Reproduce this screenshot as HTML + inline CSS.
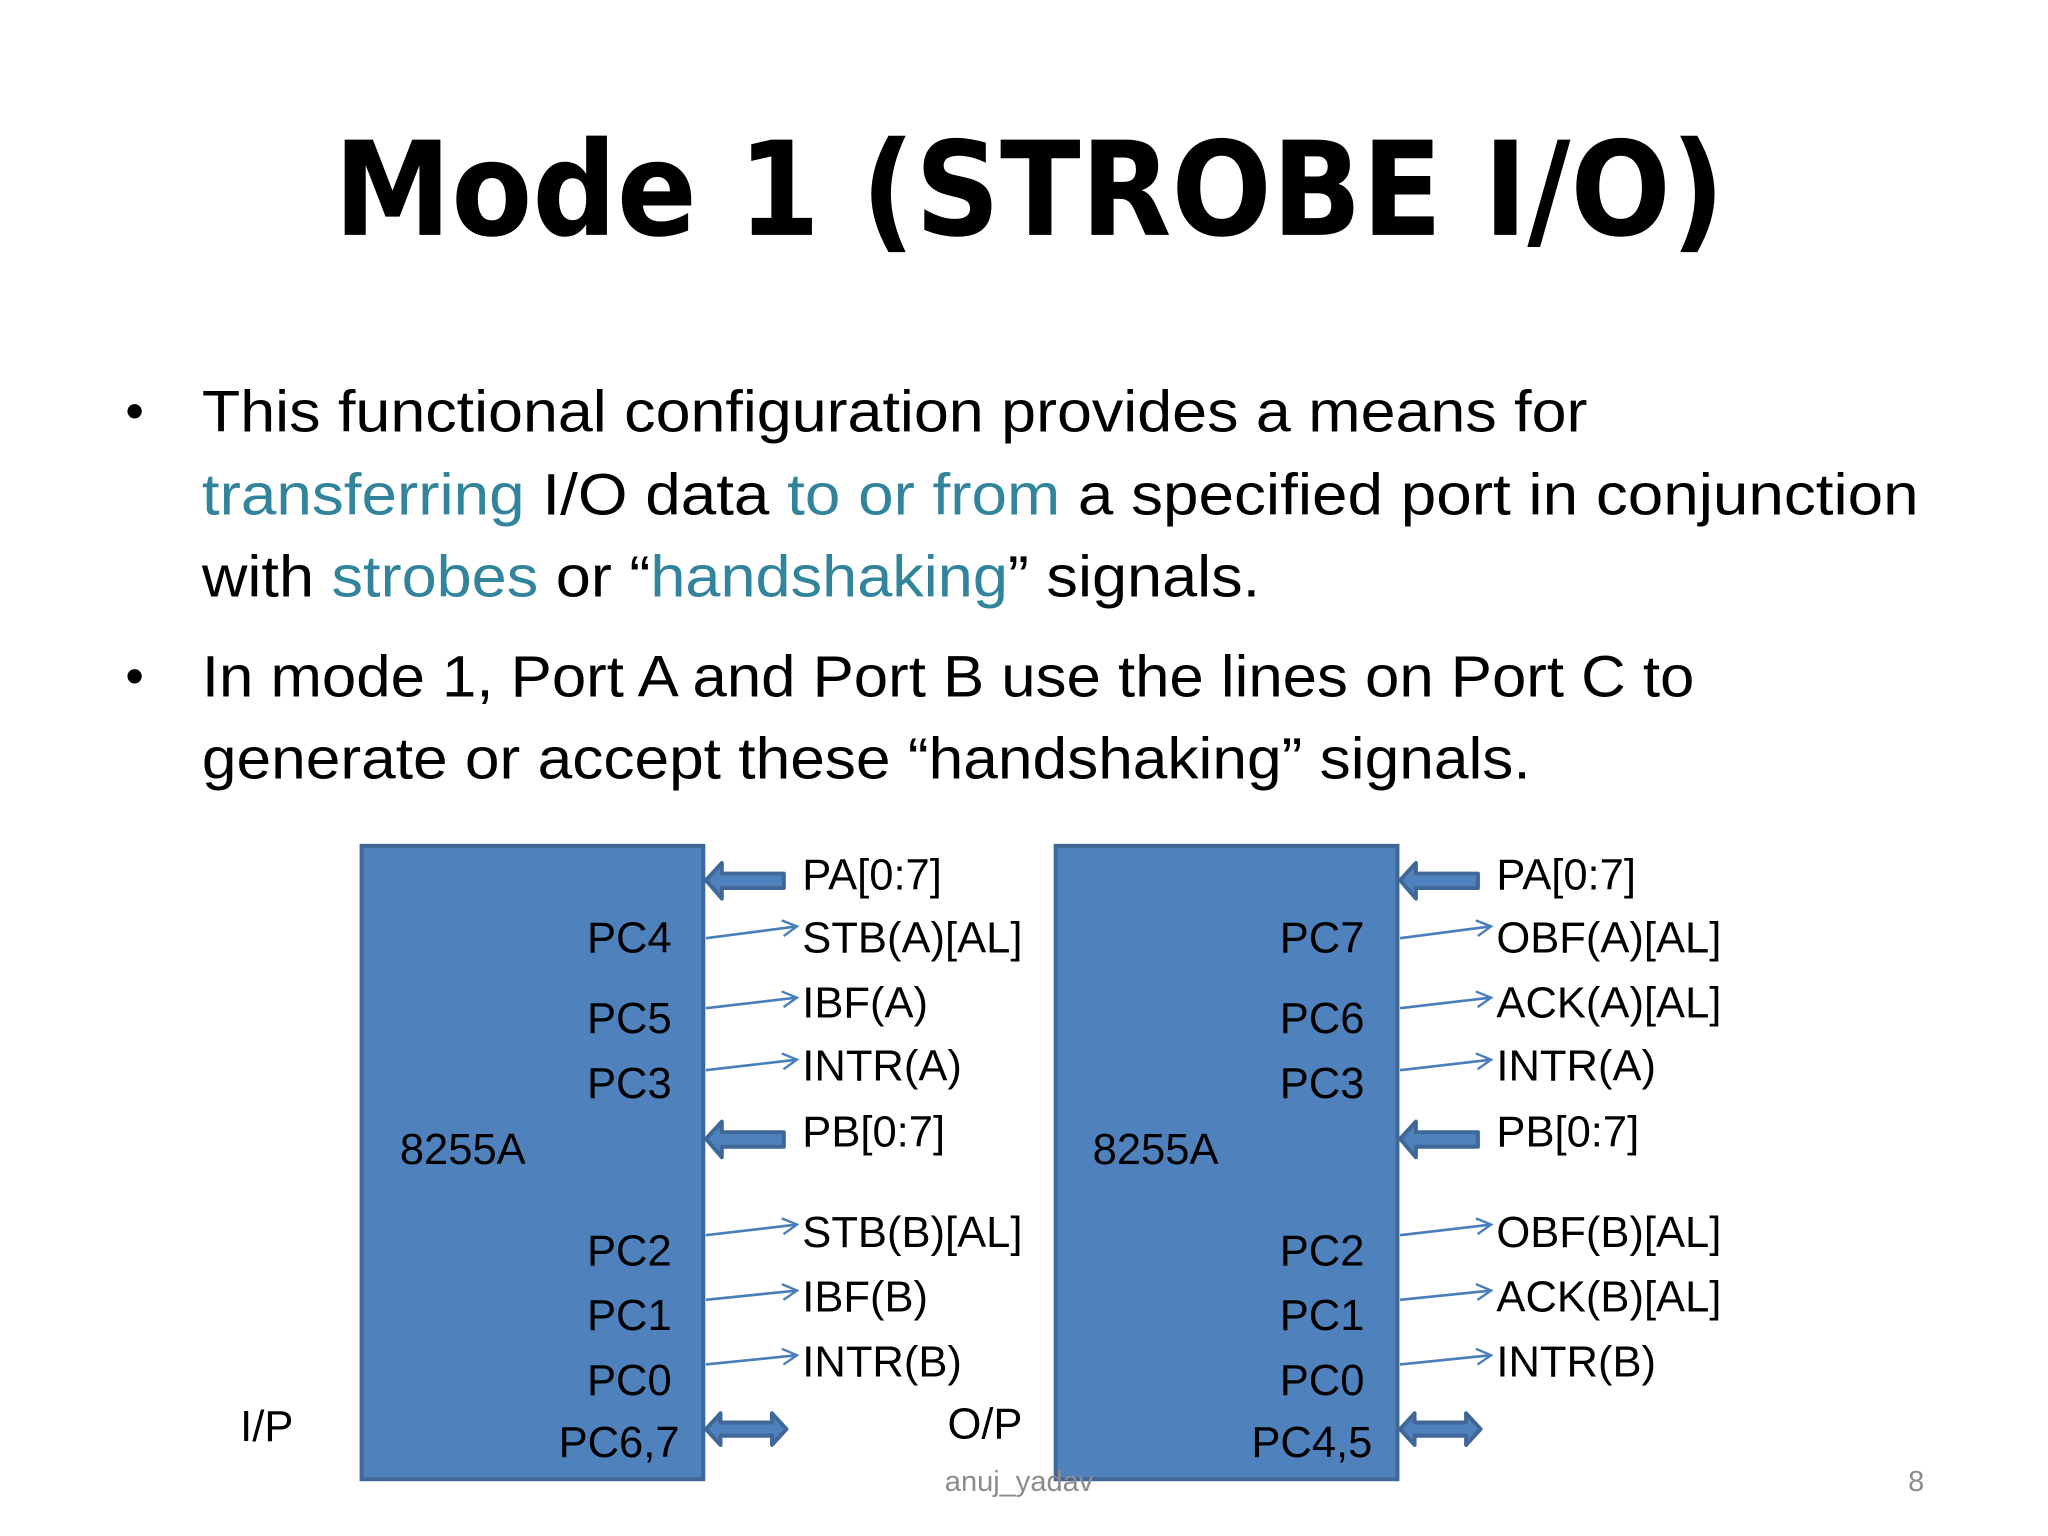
<!DOCTYPE html>
<html><head><meta charset="utf-8"><style>
html,body{margin:0;padding:0;background:#fff;width:2048px;height:1536px;overflow:hidden}
svg{display:block}
text{font-family:"Liberation Sans",sans-serif}
</style></head><body>
<svg width="2048" height="1536" viewBox="0 0 1552 1164" xmlns="http://www.w3.org/2000/svg">
<defs>
<marker id="oa" markerWidth="14" markerHeight="14" refX="12" refY="7" orient="auto" markerUnits="userSpaceOnUse">
<path d="M1,1 L12,7 L1,13" fill="none" stroke="#4A7EBB" stroke-width="1.8"/>
</marker>
<g id="blk">
<rect x="0" y="0" width="259" height="480" fill="#4F81BD" stroke="#3F6797" stroke-width="3"/>
<g stroke="#4A7EBB" stroke-width="2" marker-end="url(#oa)">
<line x1="261" y1="704" x2="330" y2="695" transform="translate(0,-634)"/>
<line x1="261" y1="757" x2="330" y2="749" transform="translate(0,-634)"/>
<line x1="261" y1="804" x2="330" y2="796" transform="translate(0,-634)"/>
<line x1="261" y1="929" x2="330" y2="921" transform="translate(0,-634)"/>
<line x1="261" y1="978" x2="330" y2="971" transform="translate(0,-634)"/>
<line x1="261" y1="1027" x2="330" y2="1020" transform="translate(0,-634)"/>
</g>
<g fill="#4F81BD" stroke="#3F6797" stroke-width="3" stroke-linejoin="round">
<path d="M261,26 L273,13 L273,21 L320,21 L320,32 L273,32 L273,40 Z"/>
<path d="M261,222 L273,209 L273,217 L320,217 L320,228 L273,228 L273,236 Z"/>
<path d="M261,442 L272,430 L272,437 L311,437 L311,430 L322,442 L311,454 L311,447 L272,447 L272,454 Z"/>
</g>
</g>
</defs>

<text x="780" y="178" font-size="99" font-weight="bold" text-anchor="middle" textLength="1054" lengthAdjust="spacingAndGlyphs" style="font-family:'DejaVu Sans',sans-serif">Mode 1 (STROBE I/O)</text>

<g font-size="44" fill="#000">
<text x="95" y="325" font-size="40">•</text>
<text x="153" y="327" textLength="1050" lengthAdjust="spacingAndGlyphs">This functional configuration provides a means for</text>
<text x="153" y="390" textLength="1301" lengthAdjust="spacingAndGlyphs"><tspan fill="#31849B">transferring</tspan> I/O data <tspan fill="#31849B">to or from</tspan> a specified port in conjunction</text>
<text x="153" y="452" textLength="802" lengthAdjust="spacingAndGlyphs">with <tspan fill="#31849B">strobes</tspan> or “<tspan fill="#31849B">handshaking</tspan>” signals.</text>
<text x="95" y="526" font-size="40">•</text>
<text x="153" y="528" textLength="1131" lengthAdjust="spacingAndGlyphs">In mode 1, Port A and Port B use the lines on Port C to</text>
<text x="153" y="590" textLength="1007" lengthAdjust="spacingAndGlyphs">generate or accept these “handshaking” signals.</text>
</g>

<use href="#blk" x="274" y="641"/>
<use href="#blk" x="800" y="641"/>

<g font-size="33" fill="#000">
<g text-anchor="end">
<text x="509" y="722">PC4</text><text x="509" y="783">PC5</text><text x="509" y="832">PC3</text>
<text x="509" y="959">PC2</text><text x="509" y="1008">PC1</text><text x="509" y="1057">PC0</text>
<text x="515" y="1104">PC6,7</text>
<text x="1034" y="722">PC7</text><text x="1034" y="783">PC6</text><text x="1034" y="832">PC3</text>
<text x="1034" y="959">PC2</text><text x="1034" y="1008">PC1</text><text x="1034" y="1057">PC0</text>
<text x="1040" y="1104">PC4,5</text>
</g>
<text x="303" y="882">8255A</text>
<text x="828" y="882">8255A</text>
<text x="608" y="674">PA[0:7]</text><text x="608" y="722">STB(A)[AL]</text><text x="608" y="771">IBF(A)</text>
<text x="608" y="819">INTR(A)</text><text x="608" y="869">PB[0:7]</text><text x="608" y="945">STB(B)[AL]</text>
<text x="608" y="994">IBF(B)</text><text x="608" y="1043">INTR(B)</text>
<text x="1134" y="674">PA[0:7]</text><text x="1134" y="722">OBF(A)[AL]</text><text x="1134" y="771">ACK(A)[AL]</text>
<text x="1134" y="819">INTR(A)</text><text x="1134" y="869">PB[0:7]</text><text x="1134" y="945">OBF(B)[AL]</text>
<text x="1134" y="994">ACK(B)[AL]</text><text x="1134" y="1043">INTR(B)</text>
<text x="182" y="1092">I/P</text>
<text x="718" y="1090">O/P</text>
</g>
<text x="716" y="1130" font-size="22" fill="#8c8c8c">anuj_yadav</text>
<text x="1446" y="1130" font-size="22" fill="#8c8c8c">8</text>
</svg>
</body></html>
